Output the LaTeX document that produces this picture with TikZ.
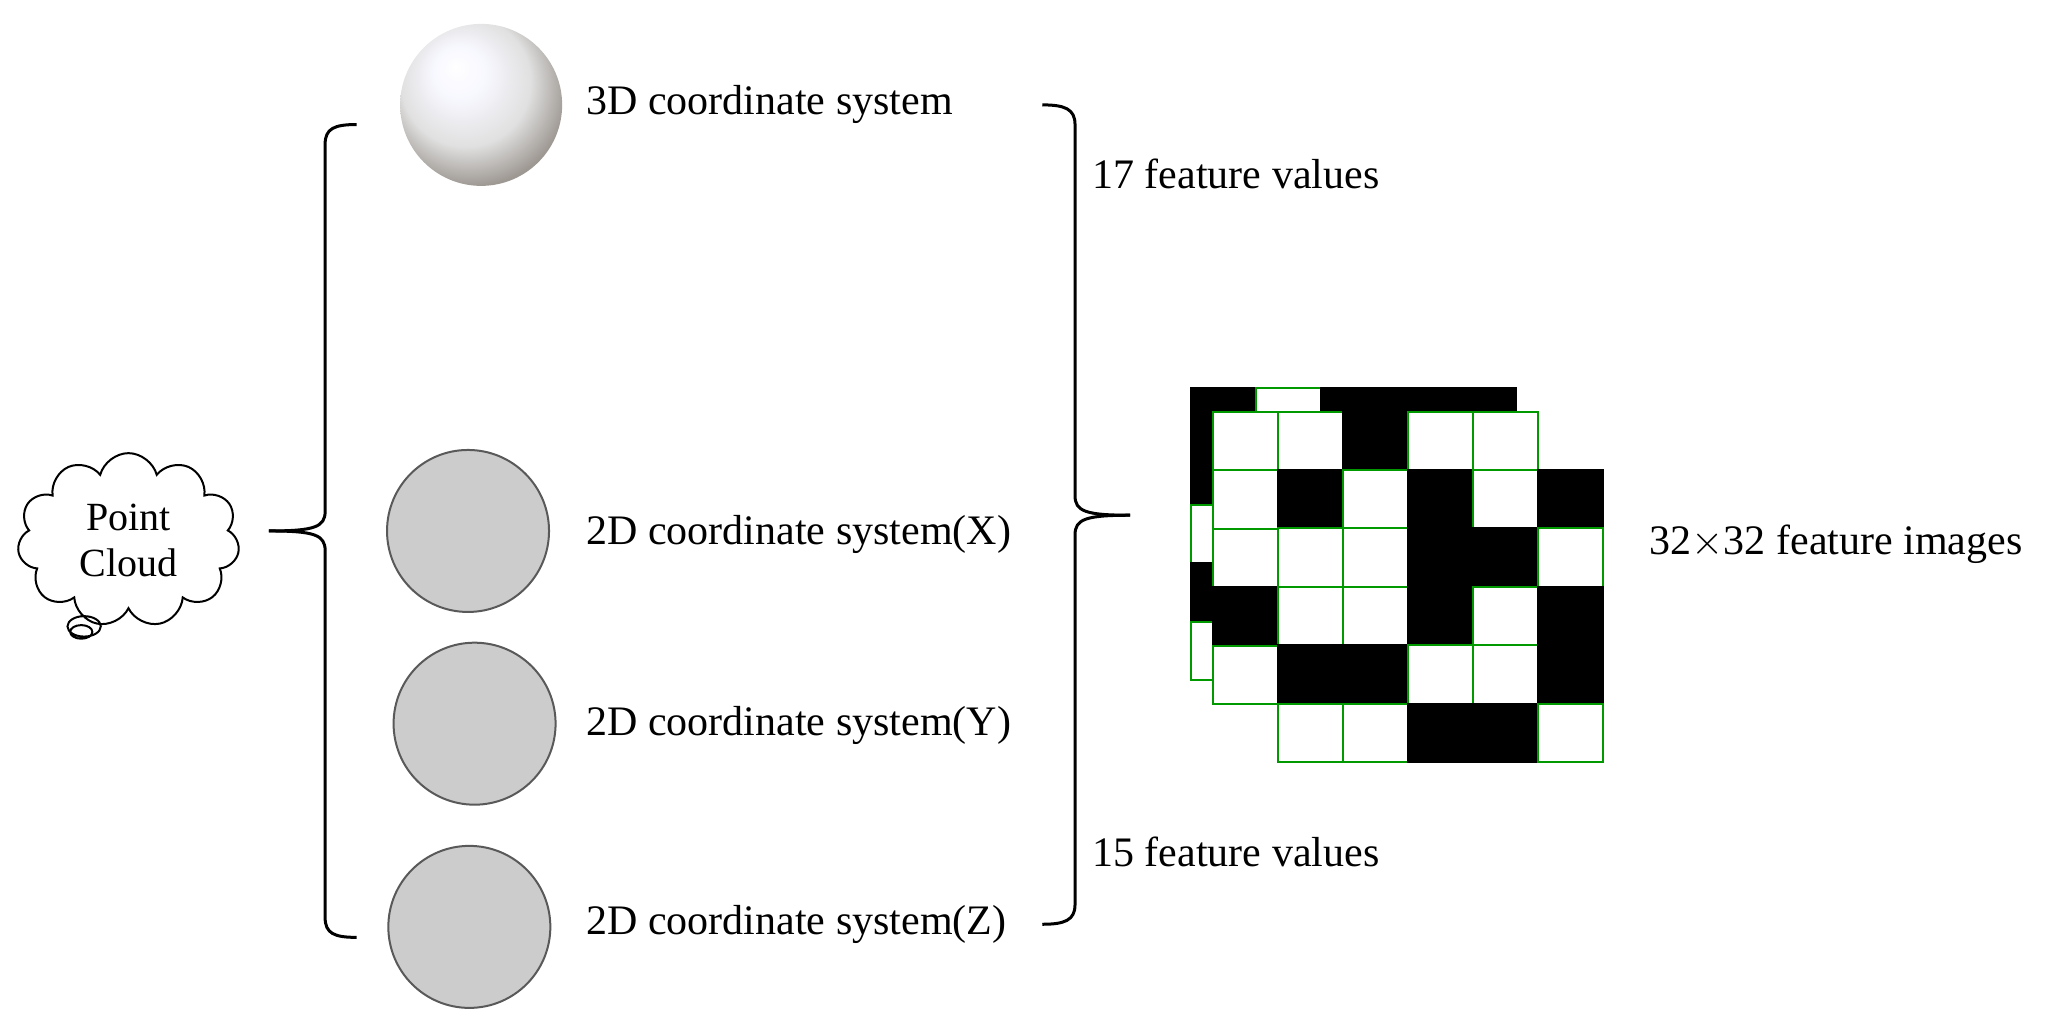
\documentclass[tikz,border=0pt]{standalone}
\usepackage{fontspec}
\setmainfont{Liberation Serif}
\usetikzlibrary{shapes.callouts,shapes.symbols}
\pgfdeclareradialshading{lightball}{\pgfpoint{-8bp}{12bp}}{%
  color(0bp)=(white); color(8bp)=(blue!3!white); color(20bp)=(black!12); color(30bp)=(brown!20!black!45); color(50bp)=(brown!25!black!55)}
\begin{document}
\begin{tikzpicture}[x=0.5pt,y=-0.5pt,
  lbl/.style={anchor=west,font=\fontsize{21}{25}\selectfont,inner sep=0},
  disc/.style={circle,minimum size=81pt,inner sep=0,fill=black!20,draw=black!65,line width=1pt},
  brace/.style={line width=1.5pt},
  cellw/.style={fill=white,draw=green!60!black,line width=1pt},
  cellb/.style={fill=black,draw=black,line width=1pt}]
\useasboundingbox (0,0) rectangle (2056,1028);
\begin{scope}[x=0.6555pt,y=-0.6555pt]
% cloud
\node[cloud callout,draw,line width=1pt,cloud puffs=11,aspect=1.3,minimum width=111pt,minimum height=87pt,align=center,inner sep=1pt,
  callout absolute pointer={(62,482)},font=\fontsize{20}{23}\selectfont] (pc) at (98,412) {Point\\Cloud};
% spheres
\node[circle,minimum size=81pt,inner sep=0,shading=lightball] (s3) at (367,80) {};
\node[disc] (sx) at (357,405) {};
\node[disc] (sy) at (362,552) {};
\node[disc] (sz) at (358,707) {};
\node[lbl] (t3) at (447,80) {3D coordinate system};
\node[lbl] (tx) at (447,408) {2D coordinate system(X)};
\node[lbl] (ty) at (447,553) {2D coordinate system(Y)};
\node[lbl] (tz) at (447,705) {2D coordinate system(Z)};
\node[lbl] (f17) at (833,133) {17 feature values};
\node[lbl] (f15) at (833,650) {15 feature values};
\node[lbl] (fi) at (1258,415) {32$\times$32 feature images};
% left brace
\coordinate (lb) at (205,405);
\draw[brace] (272,95) .. controls (255,95) and (248,98) .. (248,110) -- (248,390)
  .. controls (248,402) and (240,405) .. (lb);
\draw[brace] (lb) .. controls (240,405) and (248,408) .. (248,420) -- (248,700)
  .. controls (248,712) and (255,715) .. (272,715);
% right brace
\coordinate (rb) at (862,393);
\draw[brace] (795,80) .. controls (812,80) and (820,83) .. (820,95) -- (820,378)
  .. controls (820,390) and (828,393) .. (rb);
\draw[brace] (rb) .. controls (828,393) and (820,396) .. (820,408) -- (820,690)
  .. controls (820,702) and (812,705) .. (795,705);
\end{scope}
% grids
\def\gridat#1#2#3{%
  \foreach \row [count=\r from 0] in {#3}{%
    \foreach \c [count=\k from 0] in \row {%
      \ifnum\c=1 \def\st{cellb}\else\def\st{cellw}\fi
      \draw[\st] ({#1+65*\k},{#2+58.4*\r}) rectangle ++(65,58.4);
    }}}
\gridat{1191}{388}{{1,0,1,1,1},{1,0,0,0,0},{0,0,0,0,0},{1,0,0,0,0},{0,0,0,0,0}}
\gridat{1213}{412}{{0,0,1,0,0},{0,0,0,0,0},{0,0,0,0,0},{1,0,0,0,0},{0,0,0,0,0}}
\gridat{1278}{470}{{1,0,1,0,1},{0,0,1,1,0},{0,0,1,0,1},{1,1,0,0,1},{0,0,1,1,0}}
\end{tikzpicture}
\end{document}
